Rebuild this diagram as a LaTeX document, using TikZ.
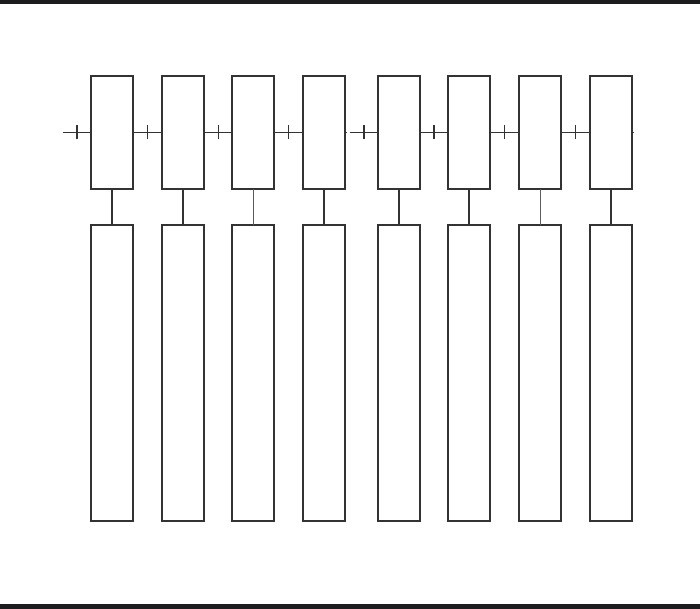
\documentclass[tikz,border=0pt]{standalone}
\usetikzlibrary{decorations.markings}
\definecolor{ink}{HTML}{333333}
\definecolor{bar}{HTML}{1C1C1E}
\begin{document}
\begin{tikzpicture}[x=1pt,y=-1pt,
  topbox/.style={draw=ink,line width=1.3pt,minimum width=42pt,minimum height=113pt,inner sep=0pt,outer sep=0pt},
  lowbox/.style={draw=ink,line width=1.3pt,minimum width=42pt,minimum height=296pt,inner sep=0pt,outer sep=0pt},
  hline/.style={draw=ink,line width=1.5pt},
  tk/.style={postaction={decorate,decoration={markings,mark=at position .5 with {\draw[ink,line width=#1] (0pt,-7pt) -- (0pt,7pt);}}}},
  thick1/.style={draw=ink,line width=2.3pt},
  mid1/.style={draw=ink,line width=1.6pt},
  thin1/.style={draw=ink!80,line width=0.8pt}]
\useasboundingbox (0,0) rectangle (700,609);
\fill[bar] (0,0) rectangle (700,4);
\fill[bar] (0,604) rectangle (700,609);
% boxes
\foreach \i/\x in {1/112,2/183,3/253,4/324,5/399,6/469,7/540,8/611}{
  \node[topbox] (t\i) at (\x,132.5) {};
  \node[lowbox] (b\i) at (\x,373) {};
}
% vertical connectors
\draw[thick1] (t1.south) -- (b1.north);
\draw[mid1] (t2.south) -- (b2.north);
\draw[thin1] (t3.south) -- (b3.north);
\draw[mid1] (t4.south) -- (b4.north);
\draw[thick1] (t5.south) -- (b5.north);
\draw[mid1] (t6.south) -- (b6.north);
\draw[thin1] (t7.south) -- (b7.north);
\draw[mid1] (t8.south) -- (b8.north);
% horizontal chain, left group
\coordinate (s1) at (63,132.5);
\coordinate (e1) at (347,132.5);
\coordinate (s2) at (350,132.5);
\coordinate (e2) at (634,132.5);
\draw[hline,tk=2.3pt] (s1) -- (t1.west);
\draw[hline,tk=1.6pt] (t1.east) -- (t2.west);
\draw[hline,tk=0.8pt] (t2.east) -- (t3.west);
\draw[hline,tk=1.6pt] (t3.east) -- (t4.west);
\draw[hline] (t4.east) -- (e1);
% right group
\draw[hline,tk=2.3pt] (s2) -- (t5.west);
\draw[hline,tk=1.6pt] (t5.east) -- (t6.west);
\draw[hline,tk=0.8pt] (t6.east) -- (t7.west);
\draw[hline,tk=1.6pt] (t7.east) -- (t8.west);
\draw[hline] (t8.east) -- (e2);
\end{tikzpicture}
\end{document}
